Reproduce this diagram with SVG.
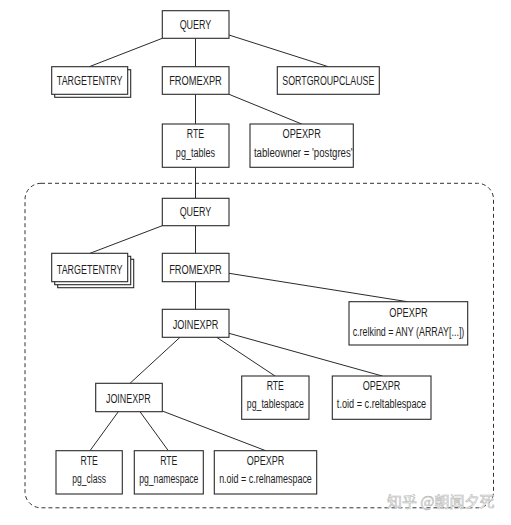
<svg xmlns="http://www.w3.org/2000/svg" width="511" height="525" viewBox="0 0 511 525">
<style>
.box{fill:#fff;stroke:#2a2a2a;stroke-width:1.1}
.t{font-family:"Liberation Sans Narrow","Liberation Sans",Arial,sans-serif;font-size:12.5px;fill:#1e1e1e;text-anchor:middle}
.c{stroke:#2a2a2a;stroke-width:1;fill:none}
.wm{font-family:"Noto Sans CJK SC",sans-serif;font-size:15px;fill:#fff;stroke:#b8b8b8;stroke-width:0.6}
</style>
<rect width="511" height="525" fill="#fff"/>
<rect x="25" y="183.3" width="468.5" height="324.5" rx="16" ry="16" fill="none" stroke="#333" stroke-width="1" stroke-dasharray="4 3"/>
<g id="connectors">
<line class="c" x1="162.3" y1="38.3" x2="89.3" y2="66.7"/>
<line class="c" x1="195.5" y1="38.3" x2="195.5" y2="66.7"/>
<line class="c" x1="229" y1="35" x2="328.3" y2="66.7"/>
<line class="c" x1="195.5" y1="94.3" x2="195.5" y2="124"/>
<line class="c" x1="229" y1="94.3" x2="301.7" y2="124"/>
<line class="c" x1="195.5" y1="167.3" x2="195.5" y2="198.3"/>
<line class="c" x1="162.3" y1="225.7" x2="90" y2="253.3"/>
<line class="c" x1="195.5" y1="225.7" x2="195.5" y2="253.3"/>
<line class="c" x1="229" y1="273.3" x2="407.3" y2="301.7"/>
<line class="c" x1="195.5" y1="281.7" x2="195.5" y2="309.3"/>
<line class="c" x1="180" y1="337.3" x2="130" y2="383.3"/>
<line class="c" x1="216.7" y1="337.3" x2="275" y2="376"/>
<line class="c" x1="229" y1="333.3" x2="382.3" y2="376"/>
<line class="c" x1="118.3" y1="411.7" x2="90" y2="450.7"/>
<line class="c" x1="140" y1="411.7" x2="168.3" y2="450.7"/>
<line class="c" x1="162.3" y1="411" x2="265.7" y2="450.7"/>
</g>
<g id="query1">
<rect class="box" x="162.3" y="10.7" width="66.7" height="27.6"/>
<text class="t" x="195.5" y="29.3" textLength="31.7" lengthAdjust="spacingAndGlyphs">QUERY</text>
</g>
<g id="targetentry1">
<rect class="box" x="54.7" y="69.7" width="76" height="27.6"/>
<rect class="box" x="51.7" y="66.7" width="76" height="27.6"/>
<text class="t" x="89.7" y="85.3" textLength="65.7" lengthAdjust="spacingAndGlyphs">TARGETENTRY</text>
</g>
<g id="fromexpr1">
<rect class="box" x="162.3" y="66.7" width="66.7" height="27.6"/>
<text class="t" x="195.5" y="85.3" textLength="52.7" lengthAdjust="spacingAndGlyphs">FROMEXPR</text>
</g>
<g id="sortgroupclause">
<rect class="box" x="277.3" y="66.7" width="102" height="27.6"/>
<text class="t" x="328.3" y="85.3" textLength="92" lengthAdjust="spacingAndGlyphs">SORTGROUPCLAUSE</text>
</g>
<g id="rte_pg_tables">
<rect class="box" x="162.3" y="124" width="66.7" height="43.3"/>
<text class="t" x="195.5" y="138.3" textLength="17.3" lengthAdjust="spacingAndGlyphs">RTE</text>
<text class="t" x="195.5" y="156.7" textLength="39.3" lengthAdjust="spacingAndGlyphs">pg_tables</text>
</g>
<g id="opexpr1">
<rect class="box" x="250" y="124" width="103.3" height="43.3"/>
<text class="t" x="301.7" y="138.3" textLength="38.3" lengthAdjust="spacingAndGlyphs">OPEXPR</text>
<text class="t" x="303.3" y="156.7" textLength="98.7" lengthAdjust="spacingAndGlyphs">tableowner = 'postgres'</text>
</g>
<g id="query2">
<rect class="box" x="162.3" y="198.3" width="66.7" height="27.4"/>
<text class="t" x="195.5" y="216.3" textLength="31.7" lengthAdjust="spacingAndGlyphs">QUERY</text>
</g>
<g id="targetentry2">
<rect class="box" x="57.7" y="259.3" width="76" height="28.4"/>
<rect class="box" x="54.7" y="256.3" width="76" height="28.4"/>
<rect class="box" x="51.7" y="253.3" width="76" height="28.4"/>
<text class="t" x="89.7" y="274" textLength="65.7" lengthAdjust="spacingAndGlyphs">TARGETENTRY</text>
</g>
<g id="fromexpr2">
<rect class="box" x="162.3" y="253.3" width="66.7" height="28.4"/>
<text class="t" x="195.5" y="274" textLength="52.7" lengthAdjust="spacingAndGlyphs">FROMEXPR</text>
</g>
<g id="opexpr_relkind">
<rect class="box" x="349" y="301.7" width="118.7" height="43.3"/>
<text class="t" x="408.5" y="316.7" textLength="38.3" lengthAdjust="spacingAndGlyphs">OPEXPR</text>
<text class="t" x="408.5" y="335.5" textLength="111.7" lengthAdjust="spacingAndGlyphs">c.relkind = ANY (ARRAY[...])</text>
</g>
<g id="joinexpr1">
<rect class="box" x="162.3" y="309.3" width="66.7" height="28"/>
<text class="t" x="195.5" y="329.3" textLength="45.7" lengthAdjust="spacingAndGlyphs">JOINEXPR</text>
</g>
<g id="joinexpr2">
<rect class="box" x="95.7" y="383.3" width="66.6" height="28.4"/>
<text class="t" x="128.3" y="402.7" textLength="44.7" lengthAdjust="spacingAndGlyphs">JOINEXPR</text>
</g>
<g id="rte_pg_tablespace">
<rect class="box" x="241.7" y="376" width="67.3" height="43.3"/>
<text class="t" x="275.3" y="390" textLength="17.3" lengthAdjust="spacingAndGlyphs">RTE</text>
<text class="t" x="275.3" y="408.3" textLength="57" lengthAdjust="spacingAndGlyphs">pg_tablespace</text>
</g>
<g id="opexpr_reltablespace">
<rect class="box" x="332.3" y="376" width="98.7" height="43.3"/>
<text class="t" x="381.5" y="390" textLength="37.7" lengthAdjust="spacingAndGlyphs">OPEXPR</text>
<text class="t" x="381.5" y="408.3" textLength="89.3" lengthAdjust="spacingAndGlyphs">t.oid = c.reltablespace</text>
</g>
<g id="rte_pg_class">
<rect class="box" x="56" y="450.7" width="66.3" height="43.3"/>
<text class="t" x="89.2" y="465" textLength="17.3" lengthAdjust="spacingAndGlyphs">RTE</text>
<text class="t" x="89.2" y="483.3" textLength="33.7" lengthAdjust="spacingAndGlyphs">pg_class</text>
</g>
<g id="rte_pg_namespace">
<rect class="box" x="134.3" y="450.7" width="69" height="43.3"/>
<text class="t" x="168.8" y="465" textLength="17.3" lengthAdjust="spacingAndGlyphs">RTE</text>
<text class="t" x="168.8" y="483.3" textLength="59.3" lengthAdjust="spacingAndGlyphs">pg_namespace</text>
</g>
<g id="opexpr_relnamespace">
<rect class="box" x="214.3" y="450.7" width="102.4" height="43.3"/>
<text class="t" x="265.5" y="465" textLength="37.7" lengthAdjust="spacingAndGlyphs">OPEXPR</text>
<text class="t" x="265.5" y="483.3" textLength="92.7" lengthAdjust="spacingAndGlyphs">n.oid = c.relnamespace</text>
</g>
<text class="wm" x="387" y="507">知乎 @朝闻夕死</text>
</svg>
